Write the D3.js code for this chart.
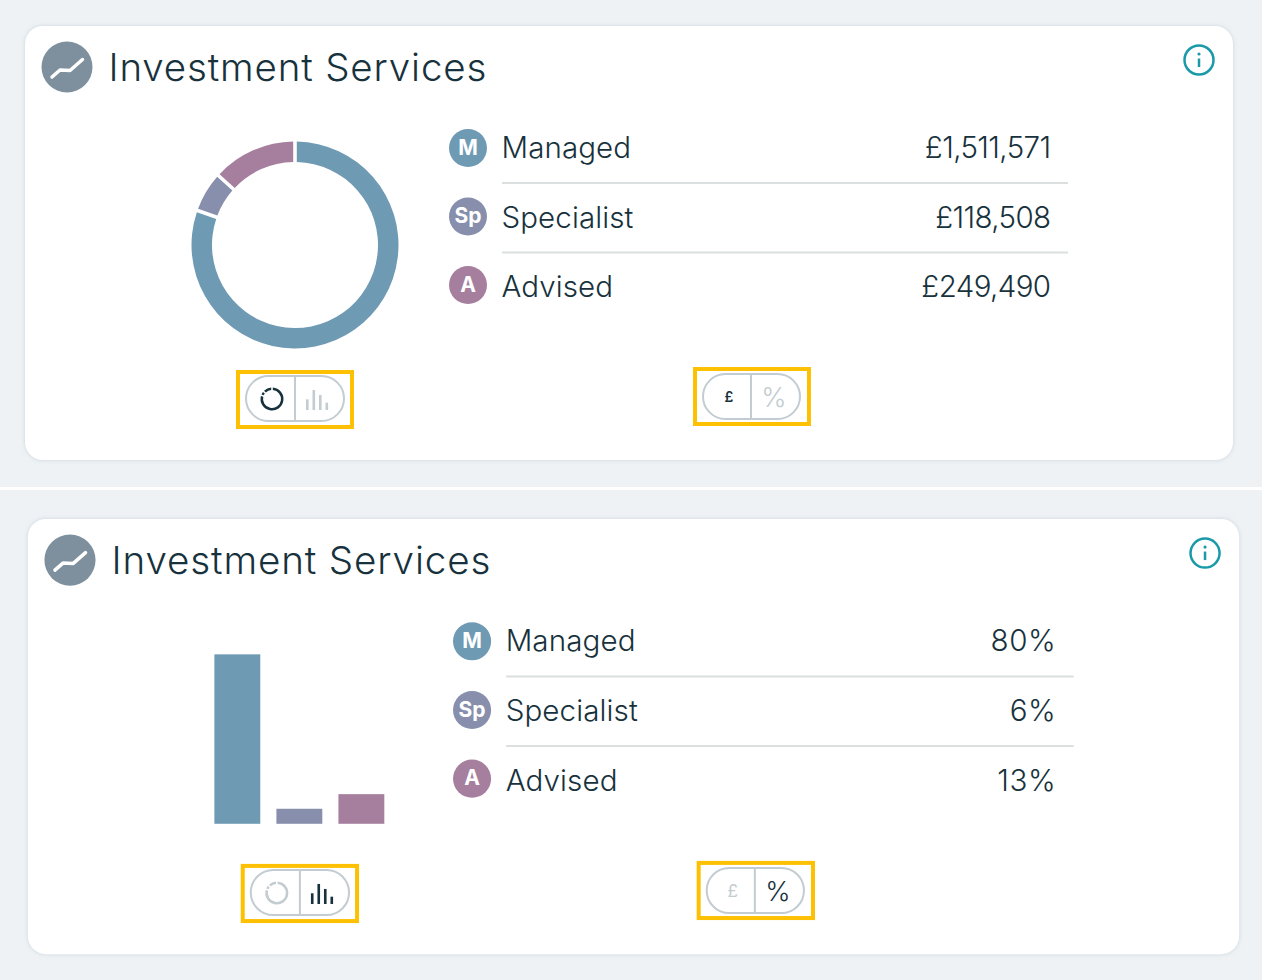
<!DOCTYPE html>
<html>
<head>
<meta charset="utf-8">
<script src="https://cdn.jsdelivr.net/npm/d3@7"></script>
<style>
  body { margin: 0; background: #eef2f5; overflow: hidden; }
  svg { display: block; }
  text { font-family: Inter, sans-serif; fill: #17323c; }
</style>
</head>
<body>
<svg id="chart"></svg>
<script>
const width = 1262;
const height = 980;

const title = "Investment Services";
const categories = ["Managed", "Specialist", "Advised"];
const badges = ["M", "Sp", "A"];
const amounts = [1511571, 118508, 249490];
const shares = [80, 6, 13];
const colors = ["#6f9ab4", "#878fac", "#a67f9e"];

const ink = "#17323c";
const pale = "#c3ccd1";
const gold = "#fdc003";

const svg = d3.select("#chart")
  .attr("width", width)
  .attr("height", height);

const defs = svg.append("defs");
defs.append("filter")
  .attr("id", "cardShadow")
  .attr("x", "-5%").attr("y", "-5%").attr("width", "110%").attr("height", "110%")
  .append("feDropShadow")
  .attr("dx", 0).attr("dy", 0).attr("stdDeviation", 2)
  .attr("flood-color", "#b9c7cf").attr("flood-opacity", 0.7);

// white strip between the two screenshots
svg.append("rect")
  .attr("x", 0).attr("y", 487)
  .attr("width", width).attr("height", 3)
  .attr("fill", "#fff");

const amountFormat = d3.format(",");

drawCard(svg.append("g"), "donut");
drawCard(svg.append("g").attr("transform", "translate(2.8,492.9) scale(1.0027)"), "bars");

function drawCard(g, mode) {
  const isDonut = mode === "donut";

  g.append("rect")
    .attr("x", 25).attr("y", 26)
    .attr("width", 1208).attr("height", 434)
    .attr("rx", 18)
    .attr("fill", "#fff")
    .attr("filter", "url(#cardShadow)");

  // header icon
  g.append("circle")
    .attr("cx", 67).attr("cy", 67).attr("r", 25.5)
    .attr("fill", "#7e909d");
  g.append("path")
    .attr("d", d3.line()([[52, 77], [60, 70], [70, 70.5], [82.5, 59.5]]))
    .attr("fill", "none")
    .attr("stroke", "#fff")
    .attr("stroke-width", 3.5)
    .attr("stroke-linecap", "round")
    .attr("stroke-linejoin", "round");

  g.append("text")
    .attr("x", 108.5).attr("y", 80.5)
    .attr("font-size", 38.5)
    .attr("font-weight", 300)
    .attr("letter-spacing", 0.85)
    .text(title);

  // info icon
  g.append("circle")
    .attr("cx", 1199).attr("cy", 60).attr("r", 14.5)
    .attr("fill", "none").attr("stroke", "#1a9aa8").attr("stroke-width", 2.5);
  g.append("circle")
    .attr("cx", 1199).attr("cy", 54).attr("r", 1.6)
    .attr("fill", "#1a9aa8");
  g.append("line")
    .attr("x1", 1199).attr("x2", 1199).attr("y1", 58.5).attr("y2", 67)
    .attr("stroke", "#1a9aa8").attr("stroke-width", 2.5);

  if (isDonut) drawDonut(g);
  else drawBars(g);

  // legend rows
  const rowY = d3.scalePoint().domain(categories).range([148, 287]);
  const badgeY = d3.scalePoint().domain(categories).range([148, 285]);
  const row = g.selectAll(".row")
    .data(categories)
    .join("g")
    .attr("class", "row")
    .attr("transform", d => `translate(0,${rowY(d)})`);

  row.append("circle")
    .attr("cx", 468).attr("cy", d => badgeY(d) - rowY(d)).attr("r", 19)
    .attr("fill", (d, i) => colors[i]);
  row.append("text")
    .attr("x", 468).attr("y", d => badgeY(d) - rowY(d) + 6.5)
    .attr("text-anchor", "middle")
    .attr("font-family", "Roboto, sans-serif")
    .attr("font-size", 21)
    .attr("font-weight", 700)
    .style("fill", "#fff")
    .text((d, i) => badges[i]);
  row.append("text")
    .attr("x", 501.5).attr("y", 10)
    .attr("font-size", 29.5)
    .attr("font-weight", 300)
    .attr("letter-spacing", 0.1)
    .text(d => d);
  row.append("text")
    .attr("x", 1050.5).attr("y", 10)
    .attr("text-anchor", "end")
    .attr("font-size", 29.5)
    .attr("font-weight", 300)
    .attr("letter-spacing", isDonut ? -0.6 : 0.5)
    .text((d, i) => isDonut ? "£" + amountFormat(amounts[i]) : shares[i] + "%");
  row.filter((d, i) => i < categories.length - 1)
    .append("line")
    .attr("x1", 502).attr("x2", 1068)
    .attr("y1", 35).attr("y2", 35)
    .attr("stroke", "#dcdfe0").attr("stroke-width", 2);

  drawChartToggle(g, isDonut);
  drawUnitToggle(g, isDonut);
}

function drawDonut(g) {
  const pie = d3.pie().sort(null)(amounts);
  const arc = d3.arc()
    .innerRadius(83).outerRadius(103.5)
    .padAngle(0.036).padRadius(100);

  g.append("g")
    .attr("transform", "translate(295,245)")
    .selectAll("path")
    .data(pie)
    .join("path")
    .attr("d", arc)
    .attr("fill", (d, i) => colors[i]);
}

function drawBars(g) {
  const x = d3.scaleBand()
    .domain(categories)
    .range([211, 380.5])
    .paddingInner(0.26);
  // baseline sits a little under zero, the short bars keep a visible stub
  const y = d3.scaleLinear().domain([-1.2, 80]).range([330, 161]);

  g.selectAll(".bar")
    .data(shares)
    .join("rect")
    .attr("class", "bar")
    .attr("x", (d, i) => x(categories[i]))
    .attr("y", d => y(d))
    .attr("width", x.bandwidth())
    .attr("height", d => y(-1.2) - y(d))
    .attr("fill", (d, i) => colors[i]);
}

function drawPill(g, x0, x1, xMid, y0, y1, boxX, boxY) {
  g.append("rect")
    .attr("x", boxX).attr("y", boxY)
    .attr("width", 114).attr("height", 55)
    .attr("fill", "#fff")
    .attr("stroke", gold).attr("stroke-width", 4);
  g.append("rect")
    .attr("x", x0).attr("y", y0)
    .attr("width", x1 - x0).attr("height", y1 - y0)
    .attr("rx", (y1 - y0) / 2)
    .attr("fill", "#fff")
    .attr("stroke", pale).attr("stroke-width", 2);
  g.append("line")
    .attr("x1", xMid).attr("x2", xMid).attr("y1", y0).attr("y2", y1)
    .attr("stroke", pale).attr("stroke-width", 2);
}

function drawChartToggle(g, isDonut) {
  // the lower card's toggle sits slightly further right than the card scale gives
  const t = g.append("g").attr("transform", isDonut ? null : "translate(1.3,0)");
  drawPill(t, 246, 344, 295, 376, 421, 238, 372);

  const ring = d3.arc().innerRadius(9).outerRadius(11.5).padAngle(0.16).padRadius(10);
  t.append("g")
    .attr("transform", "translate(272,399)")
    .selectAll("path")
    .data(d3.pie().sort(null)(amounts))
    .join("path")
    .attr("d", ring)
    .attr("fill", isDonut ? ink : pale);

  const iconBars = [10.7, 20, 15, 7.3];
  t.selectAll(".iconBar")
    .data(iconBars)
    .join("rect")
    .attr("class", "iconBar")
    .attr("x", (d, i) => 306 + i * 6.5)
    .attr("y", d => 410 - d)
    .attr("width", 2.6)
    .attr("height", d => d)
    .attr("fill", isDonut ? pale : ink);
}

function drawUnitToggle(g, isDonut) {
  const t = g.append("g").attr("transform", isDonut ? null : "translate(-1,0)");
  drawPill(t, 703, 800, 751, 374, 419, 695, 369);

  t.append("text")
    .attr("x", 729).attr("y", isDonut ? 402 : 403)
    .attr("text-anchor", "middle")
    .attr("font-size", isDonut ? 14 : 17)
    .attr("font-weight", isDonut ? 600 : 400)
    .style("fill", isDonut ? ink : pale)
    .text("£");
  t.append("text")
    .attr("x", 774).attr("y", 407)
    .attr("text-anchor", "middle")
    .attr("font-size", 27)
    .attr("font-weight", 300)
    .style("fill", isDonut ? pale : ink)
    .text("%");
}
</script>
</body>
</html>
